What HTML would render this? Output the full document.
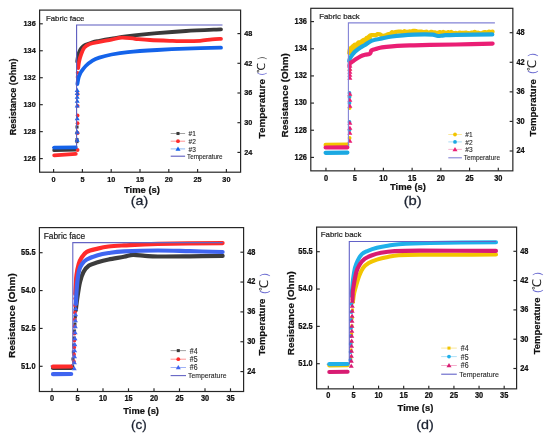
<!DOCTYPE html>
<html><head><meta charset="utf-8"><title>Resistance vs Time</title>
<style>
html,body{margin:0;padding:0;background:#fff;}
svg{display:block;}
text{font-family:'Liberation Sans', Arial, sans-serif;}
.b{font-weight:bold;fill:#111;stroke:#111;stroke-width:0.22px;}
.t{fill:#262626;stroke:#262626;stroke-width:0.1px;}
.tt{fill:#1c1c1c;stroke:#1c1c1c;stroke-width:0.2px;}
.lt{fill:#1b2231;stroke:#1b2231;stroke-width:0.3px;}
</style></head>
<body>
<svg width="550" height="439" viewBox="0 0 550 439">
<rect width="550" height="439" fill="#fff"/>
<text transform="translate(46,20.8) scale(1,1)" font-size="7.6" class="tt" textLength="38.4" lengthAdjust="spacingAndGlyphs">Fabric face</text>
<path d="M52.1,147.5 H76.6" stroke="#5b5bbf" stroke-width="1.1" fill="none"/>
<path d="M54.2,150.2 L75.8,149.6" stroke="#3a3a3a" stroke-width="3.8" stroke-linecap="round" fill="none"/>
<rect x="75.47" y="125.47" width="3.06" height="3.06" fill="#3a3a3a"/>
<rect x="75.47" y="138.07" width="3.06" height="3.06" fill="#3a3a3a"/>
<rect x="75.47" y="140.07" width="3.06" height="3.06" fill="#3a3a3a"/>
<rect x="75.47" y="131.47" width="3.06" height="3.06" fill="#3a3a3a"/>
<path d="M77.2,61.5 C77.38,60.42 77.8,56.95 78.3,55 C78.8,53.05 79.45,51.2 80.2,49.8 C80.95,48.4 81.88,47.43 82.8,46.6 C83.72,45.77 84.08,45.53 85.7,44.8 C87.32,44.07 90.23,42.87 92.5,42.2 C94.77,41.53 96.12,41.38 99.3,40.8 C102.48,40.22 106.82,39.47 111.6,38.7 C116.38,37.93 120.43,37.12 128,36.2 C135.57,35.28 147.33,34.07 157,33.2 C166.67,32.33 175.33,31.63 186,31 C196.67,30.37 215.17,29.67 221,29.4" stroke="#3a3a3a" stroke-width="3.8" stroke-linecap="round" stroke-linejoin="round" fill="none"/>
<path d="M54.2,155.3 L75.8,153.9" stroke="#ff2b2b" stroke-width="3.8" stroke-linecap="round" fill="none"/>
<circle cx="77.6" cy="72.8" r="1.89" fill="#ff2b2b"/>
<circle cx="77.6" cy="76.9" r="1.89" fill="#ff2b2b"/>
<circle cx="77.6" cy="94" r="1.89" fill="#ff2b2b"/>
<circle cx="77.6" cy="105.8" r="1.89" fill="#ff2b2b"/>
<circle cx="77.6" cy="115.5" r="1.89" fill="#ff2b2b"/>
<circle cx="77.6" cy="123.2" r="1.89" fill="#ff2b2b"/>
<circle cx="77.6" cy="132.9" r="1.89" fill="#ff2b2b"/>
<circle cx="77.6" cy="150" r="1.89" fill="#ff2b2b"/>
<path d="M78.2,68 C78.33,67 78.55,64.17 79,62 C79.45,59.83 80.02,57.4 80.9,55 C81.78,52.6 82.83,49.45 84.3,47.6 C85.77,45.75 87.2,44.87 89.7,43.9 C92.2,42.93 95.65,42.5 99.3,41.8 C102.95,41.1 107.82,40.4 111.6,39.7 C115.38,39 118.1,37.75 122,37.6 C125.9,37.45 130.33,38.4 135,38.8 C139.67,39.2 144.17,39.67 150,40 C155.83,40.33 164,40.6 170,40.8 C176,41 181,41.2 186,41.2 C191,41.2 195.67,41.1 200,40.8 C204.33,40.5 208.5,39.73 212,39.4 C215.5,39.07 219.5,38.9 221,38.8" stroke="#ff2b2b" stroke-width="3.8" stroke-linecap="round" stroke-linejoin="round" fill="none"/>
<path d="M54.2,147.7 L75.8,147.3" stroke="#1463ea" stroke-width="3.8" stroke-linecap="round" fill="none"/>
<polygon points="77.2,87.8 74.7,92.11 79.7,92.11" fill="#1463ea"/>
<polygon points="77.2,90.7 74.7,95.01 79.7,95.01" fill="#1463ea"/>
<polygon points="77.2,94.5 74.7,98.81 79.7,98.81" fill="#1463ea"/>
<polygon points="77.2,98.5 74.7,102.81 79.7,102.81" fill="#1463ea"/>
<polygon points="77.2,103.3 74.7,107.61 79.7,107.61" fill="#1463ea"/>
<polygon points="77.2,115.9 74.7,120.21 79.7,120.21" fill="#1463ea"/>
<polygon points="77.2,129.4 74.7,133.71 79.7,133.71" fill="#1463ea"/>
<polygon points="77.2,137.5 74.7,141.81 79.7,141.81" fill="#1463ea"/>
<path d="M77.4,84 C77.58,83 78.07,79.67 78.5,78 C78.93,76.33 79.48,75.13 80,74 C80.52,72.87 80.65,72.53 81.6,71.2 C82.55,69.87 83.88,67.77 85.7,66 C87.52,64.23 90.23,62 92.5,60.6 C94.77,59.2 96.12,58.62 99.3,57.6 C102.48,56.58 106.82,55.42 111.6,54.5 C116.38,53.58 120.43,52.85 128,52.1 C135.57,51.35 147.33,50.58 157,50 C166.67,49.42 175.33,48.98 186,48.6 C196.67,48.22 215.17,47.85 221,47.7" stroke="#1463ea" stroke-width="3.8" stroke-linecap="round" stroke-linejoin="round" fill="none"/>
<path d="M76.6,147.5 V25 H222.5" stroke="#5b5bbf" stroke-width="1.1" fill="none"/>
<rect x="39.6" y="10.1" width="201" height="162.1" fill="none" stroke="#262626" stroke-width="1.2"/>
<path d="M53.6,172.2 v-3.2" stroke="#262626" stroke-width="1.15"/>
<text transform="translate(53.6,181.6) scale(1,1.1)" font-size="7.3" class="b" text-anchor="middle">0</text>
<path d="M82.4,172.2 v-3.2" stroke="#262626" stroke-width="1.15"/>
<text transform="translate(82.4,181.6) scale(1,1.1)" font-size="7.3" class="b" text-anchor="middle">5</text>
<path d="M111.2,172.2 v-3.2" stroke="#262626" stroke-width="1.15"/>
<text transform="translate(111.2,181.6) scale(1,1.1)" font-size="7.3" class="b" text-anchor="middle">10</text>
<path d="M140,172.2 v-3.2" stroke="#262626" stroke-width="1.15"/>
<text transform="translate(140,181.6) scale(1,1.1)" font-size="7.3" class="b" text-anchor="middle">15</text>
<path d="M168.8,172.2 v-3.2" stroke="#262626" stroke-width="1.15"/>
<text transform="translate(168.8,181.6) scale(1,1.1)" font-size="7.3" class="b" text-anchor="middle">20</text>
<path d="M197.6,172.2 v-3.2" stroke="#262626" stroke-width="1.15"/>
<text transform="translate(197.6,181.6) scale(1,1.1)" font-size="7.3" class="b" text-anchor="middle">25</text>
<path d="M226.4,172.2 v-3.2" stroke="#262626" stroke-width="1.15"/>
<text transform="translate(226.4,181.6) scale(1,1.1)" font-size="7.3" class="b" text-anchor="middle">30</text>
<path d="M39.6,158.6 h3.2" stroke="#262626" stroke-width="1.15"/>
<text transform="translate(35.7,160.87) scale(1,1.1)" font-size="7.3" class="b" text-anchor="end">126</text>
<path d="M39.6,131.64 h3.2" stroke="#262626" stroke-width="1.15"/>
<text transform="translate(35.7,133.91) scale(1,1.1)" font-size="7.3" class="b" text-anchor="end">128</text>
<path d="M39.6,104.68 h3.2" stroke="#262626" stroke-width="1.15"/>
<text transform="translate(35.7,106.95) scale(1,1.1)" font-size="7.3" class="b" text-anchor="end">130</text>
<path d="M39.6,77.72 h3.2" stroke="#262626" stroke-width="1.15"/>
<text transform="translate(35.7,79.99) scale(1,1.1)" font-size="7.3" class="b" text-anchor="end">132</text>
<path d="M39.6,50.76 h3.2" stroke="#262626" stroke-width="1.15"/>
<text transform="translate(35.7,53.03) scale(1,1.1)" font-size="7.3" class="b" text-anchor="end">134</text>
<path d="M39.6,23.8 h3.2" stroke="#262626" stroke-width="1.15"/>
<text transform="translate(35.7,26.07) scale(1,1.1)" font-size="7.3" class="b" text-anchor="end">136</text>
<path d="M240.6,152.4 h-3.2" stroke="#262626" stroke-width="1.15"/>
<text transform="translate(244.2,154.67) scale(1,1.1)" font-size="7.3" class="b">24</text>
<path d="M240.6,122.7 h-3.2" stroke="#262626" stroke-width="1.15"/>
<text transform="translate(244.2,124.97) scale(1,1.1)" font-size="7.3" class="b">30</text>
<path d="M240.6,93 h-3.2" stroke="#262626" stroke-width="1.15"/>
<text transform="translate(244.2,95.27) scale(1,1.1)" font-size="7.3" class="b">36</text>
<path d="M240.6,63.3 h-3.2" stroke="#262626" stroke-width="1.15"/>
<text transform="translate(244.2,65.57) scale(1,1.1)" font-size="7.3" class="b">42</text>
<path d="M240.6,33.6 h-3.2" stroke="#262626" stroke-width="1.15"/>
<text transform="translate(244.2,35.87) scale(1,1.1)" font-size="7.3" class="b">48</text>
<path d="M170.7,133.5 H185.1" stroke="#9a9a9a" stroke-width="0.9"/>
<rect x="176.47" y="131.97" width="3.06" height="3.06" fill="#3a3a3a"/>
<text transform="translate(188.6,136.3) scale(1,1.18)" font-size="6.6" class="t">#1</text>
<path d="M170.7,141.2 H185.1" stroke="#ff8a8a" stroke-width="0.9"/>
<circle cx="178" cy="141.2" r="1.89" fill="#ff2b2b"/>
<text transform="translate(188.6,144) scale(1,1.18)" font-size="6.6" class="t">#2</text>
<path d="M170.7,148.9 H185.1" stroke="#86b4f2" stroke-width="0.9"/>
<polygon points="178,146.4 175.5,150.71 180.5,150.71" fill="#1463ea"/>
<text transform="translate(188.6,151.7) scale(1,1.18)" font-size="6.6" class="t">#3</text>
<path d="M170.7,156.2 H185.1" stroke="#5b5bbf" stroke-width="1.1"/>
<text transform="translate(187,158.81) scale(1,1.1)" font-size="6.6" class="t" textLength="35.6" lengthAdjust="spacingAndGlyphs">Temperature</text>
<text x="124" y="193.3" font-size="9.4" class="b" textLength="36" lengthAdjust="spacingAndGlyphs">Time (s)</text>
<text x="130.8" y="204.9" font-size="13.5" class="lt" textLength="17.3" lengthAdjust="spacingAndGlyphs">(a)</text>
<text transform="translate(15.66,96.95) rotate(-90)" font-size="9.2" class="b" text-anchor="middle" textLength="76.7" lengthAdjust="spacingAndGlyphs">Resistance (Ohm)</text>
<text transform="translate(264.76,108.75) rotate(-90)" font-size="9.8" class="b" text-anchor="middle" textLength="59.3" lengthAdjust="spacingAndGlyphs">Temperature</text>
<text transform="translate(265.1,66.1) rotate(-90)" font-family="'Liberation Sans', 'WenQuanYi Zen Hei', 'Noto Sans CJK SC', sans-serif" font-size="11.1" text-anchor="middle"><tspan fill="#5a5ad0">（</tspan><tspan fill="#1e1e1e" dx="-1.8">℃</tspan><tspan fill="#333" dx="1.8">）</tspan></text>
<text transform="translate(319.2,18.8) scale(1,1)" font-size="7.8" class="tt" textLength="40.6" lengthAdjust="spacingAndGlyphs">Fabric back</text>
<path d="M324.45,146 H348.4" stroke="#8383d6" stroke-width="1.1" fill="none"/>
<path d="M325.6,144.9 L347.4,144.7" stroke="#f2c500" stroke-width="4.2" stroke-linecap="round" fill="none"/>
<circle cx="349.6" cy="62" r="1.89" fill="#f2c500"/>
<circle cx="349.6" cy="70" r="1.89" fill="#f2c500"/>
<circle cx="349.6" cy="96" r="1.89" fill="#f2c500"/>
<circle cx="349.6" cy="108" r="1.89" fill="#f2c500"/>
<circle cx="349.6" cy="138" r="1.89" fill="#f2c500"/>
<path d="M349.6,53 C349.83,52.58 350.1,51.4 351,50.5 C351.9,49.6 353.42,48.65 355,47.6 C356.58,46.55 358.83,45.17 360.5,44.2 C362.17,43.23 363.42,42.75 365,41.8 C366.58,40.85 369.17,39.05 370,38.5" stroke="#f2c500" stroke-width="4.2" stroke-linecap="round" stroke-linejoin="round" fill="none"/>
<path d="M349.4,53 L349.46,51.35 L349.8,49.4 L350.74,48.09 L352,47 L353.29,45.82 L355,44.54 L356.69,44.33 L358.65,42.24 L360.5,41.96 L362.06,40.99 L363.5,39.93 L365,39.91 L366.53,38.01 L368.12,37.31 L370,35.61 L371.79,35.03 L373.84,35.06 L375.86,35.33 L377.6,34 L380,34.43 L382,35.5 L384.12,35.94 L386.4,34.92 L388.2,34.02 L390.13,34.17 L392,32.07 L393.67,33.1 L395.28,32.07 L397,31.73 L398.72,31.51 L400.56,31.64 L403,32.31 L404.36,31.24 L405.91,31.83 L407.6,31.88 L409.35,31.42 L411.13,31.68 L412.86,30.89 L414.5,30.9 L416.26,31.16 L417.91,31.98 L419.53,31.65 L421.2,31.55 L423,32.06 L425,31.93 L426.46,31.72 L428.01,32.56 L429.63,32.45 L431.3,31.77 L433.02,32.34 L434.76,32.31 L436.51,32.91 L438.26,32.72 L440,32.06 L441.57,33.21 L443.17,31.88 L444.79,32.41 L446.42,33 L448.06,32.08 L449.7,32.67 L451.32,31.99 L452.91,33.03 L454.48,33.21 L456,32.92 L457.79,33.41 L459.44,32.5 L461.02,33.09 L462.59,32.89 L464.21,32.84 L465.94,32.6 L467.85,33.18 L470,33.31 L471.4,32.54 L472.97,32.82 L474.68,31.83 L476.49,32.84 L478.36,32.72 L480.27,33.25 L482.18,32.95 L484.04,32.07 L485.84,32.21 L487.54,32.64 L489.1,31.58 L490.48,32.27 L491.66,31.78 L492.6,31.69" stroke="#f2c500" stroke-width="4.2" stroke-linecap="round" stroke-linejoin="round" fill="none"/>
<path d="M325.6,152.8 L347.4,152.6" stroke="#1ba8e2" stroke-width="4.2" stroke-linecap="round" fill="none"/>
<circle cx="349.5" cy="93" r="1.89" fill="#1ba8e2"/>
<circle cx="349.5" cy="97" r="1.89" fill="#1ba8e2"/>
<circle cx="349.5" cy="103" r="1.89" fill="#1ba8e2"/>
<circle cx="349.5" cy="122" r="1.89" fill="#1ba8e2"/>
<circle cx="349.5" cy="130" r="1.89" fill="#1ba8e2"/>
<path d="M349.2,61 C349.37,60.5 349.65,59.08 350.2,58 C350.75,56.92 351.7,55.57 352.5,54.5 C353.3,53.43 353.67,52.77 355,51.6 C356.33,50.43 358.83,48.6 360.5,47.5 C362.17,46.4 363.08,46.15 365,45 C366.92,43.85 369.17,41.7 372,40.6 C374.83,39.5 378.67,39.08 382,38.4 C385.33,37.72 388.5,37.02 392,36.5 C395.5,35.98 399.33,35.62 403,35.3 C406.67,34.98 410.33,34.77 414,34.6 C417.67,34.43 421.83,34.28 425,34.3 C428.17,34.32 430.83,34.42 433,34.7 C435.17,34.98 436.17,35.9 438,36 C439.83,36.1 441,35.5 444,35.3 C447,35.1 447.95,34.95 456,34.8 C464.05,34.65 486.25,34.47 492.3,34.4" stroke="#1ba8e2" stroke-width="4.2" stroke-linecap="round" stroke-linejoin="round" fill="none"/>
<path d="M325.6,147.5 L347.4,147.3" stroke="#ea1e74" stroke-width="4.2" stroke-linecap="round" fill="none"/>
<polygon points="349.9,63.5 347.4,67.81 352.4,67.81" fill="#ea1e74"/>
<polygon points="349.9,66.5 347.4,70.81 352.4,70.81" fill="#ea1e74"/>
<polygon points="349.9,69.5 347.4,73.81 352.4,73.81" fill="#ea1e74"/>
<polygon points="349.9,72.5 347.4,76.81 352.4,76.81" fill="#ea1e74"/>
<polygon points="349.9,75.5 347.4,79.81 352.4,79.81" fill="#ea1e74"/>
<polygon points="349.9,91.5 347.4,95.81 352.4,95.81" fill="#ea1e74"/>
<polygon points="349.9,97.5 347.4,101.81 352.4,101.81" fill="#ea1e74"/>
<polygon points="349.9,103.5 347.4,107.81 352.4,107.81" fill="#ea1e74"/>
<polygon points="349.9,120.5 347.4,124.81 352.4,124.81" fill="#ea1e74"/>
<polygon points="349.9,125.5 347.4,129.81 352.4,129.81" fill="#ea1e74"/>
<polygon points="349.9,130.5 347.4,134.81 352.4,134.81" fill="#ea1e74"/>
<polygon points="349.9,138.5 347.4,142.81 352.4,142.81" fill="#ea1e74"/>
<path d="M349.4,66 C349.5,65.57 349.48,64.13 350,63.4 C350.52,62.67 351.67,62.2 352.5,61.6 C353.33,61 353.67,60.67 355,59.8 C356.33,58.93 358.83,57.23 360.5,56.4 C362.17,55.57 363.53,55.2 365,54.8 C366.47,54.4 368.4,54.3 369.3,54 C370.2,53.7 370.07,53.57 370.4,53 C370.73,52.43 370.87,51.13 371.3,50.6 C371.73,50.07 372.05,50.13 373,49.8 C373.95,49.47 375.5,49 377,48.6 C378.5,48.2 379.5,47.78 382,47.4 C384.5,47.02 388.5,46.6 392,46.3 C395.5,46 399.33,45.77 403,45.6 C406.67,45.43 409.5,45.42 414,45.3 C418.5,45.18 423,45.03 430,44.9 C437,44.77 445.57,44.72 456,44.5 C466.43,44.28 486.5,43.75 492.6,43.6" stroke="#ea1e74" stroke-width="4.2" stroke-linecap="round" stroke-linejoin="round" fill="none"/>
<path d="M348.4,146 V22.9 H494.9" stroke="#8383d6" stroke-width="1.1" fill="none"/>
<rect x="310.8" y="8.3" width="202.05" height="162.55" fill="none" stroke="#262626" stroke-width="1.2"/>
<path d="M325.95,170.85 v-3.2" stroke="#262626" stroke-width="1.15"/>
<text transform="translate(325.95,180.9) scale(1,1.1)" font-size="7.4" class="b" text-anchor="middle">0</text>
<path d="M354.68,170.85 v-3.2" stroke="#262626" stroke-width="1.15"/>
<text transform="translate(354.68,180.9) scale(1,1.1)" font-size="7.4" class="b" text-anchor="middle">5</text>
<path d="M383.4,170.85 v-3.2" stroke="#262626" stroke-width="1.15"/>
<text transform="translate(383.4,180.9) scale(1,1.1)" font-size="7.4" class="b" text-anchor="middle">10</text>
<path d="M412.12,170.85 v-3.2" stroke="#262626" stroke-width="1.15"/>
<text transform="translate(412.12,180.9) scale(1,1.1)" font-size="7.4" class="b" text-anchor="middle">15</text>
<path d="M440.85,170.85 v-3.2" stroke="#262626" stroke-width="1.15"/>
<text transform="translate(440.85,180.9) scale(1,1.1)" font-size="7.4" class="b" text-anchor="middle">20</text>
<path d="M469.57,170.85 v-3.2" stroke="#262626" stroke-width="1.15"/>
<text transform="translate(469.57,180.9) scale(1,1.1)" font-size="7.4" class="b" text-anchor="middle">25</text>
<path d="M498.3,170.85 v-3.2" stroke="#262626" stroke-width="1.15"/>
<text transform="translate(498.3,180.9) scale(1,1.1)" font-size="7.4" class="b" text-anchor="middle">30</text>
<path d="M310.8,157.4 h3.2" stroke="#262626" stroke-width="1.15"/>
<text transform="translate(306.9,159.71) scale(1,1.1)" font-size="7.4" class="b" text-anchor="end">126</text>
<path d="M310.8,130.24 h3.2" stroke="#262626" stroke-width="1.15"/>
<text transform="translate(306.9,132.55) scale(1,1.1)" font-size="7.4" class="b" text-anchor="end">128</text>
<path d="M310.8,103.08 h3.2" stroke="#262626" stroke-width="1.15"/>
<text transform="translate(306.9,105.39) scale(1,1.1)" font-size="7.4" class="b" text-anchor="end">130</text>
<path d="M310.8,75.92 h3.2" stroke="#262626" stroke-width="1.15"/>
<text transform="translate(306.9,78.23) scale(1,1.1)" font-size="7.4" class="b" text-anchor="end">132</text>
<path d="M310.8,48.76 h3.2" stroke="#262626" stroke-width="1.15"/>
<text transform="translate(306.9,51.07) scale(1,1.1)" font-size="7.4" class="b" text-anchor="end">134</text>
<path d="M310.8,21.6 h3.2" stroke="#262626" stroke-width="1.15"/>
<text transform="translate(306.9,23.91) scale(1,1.1)" font-size="7.4" class="b" text-anchor="end">136</text>
<path d="M512.85,151 h-3.2" stroke="#262626" stroke-width="1.15"/>
<text transform="translate(516.45,153.31) scale(1,1.1)" font-size="7.4" class="b">24</text>
<path d="M512.85,121.42 h-3.2" stroke="#262626" stroke-width="1.15"/>
<text transform="translate(516.45,123.74) scale(1,1.1)" font-size="7.4" class="b">30</text>
<path d="M512.85,91.85 h-3.2" stroke="#262626" stroke-width="1.15"/>
<text transform="translate(516.45,94.16) scale(1,1.1)" font-size="7.4" class="b">36</text>
<path d="M512.85,62.27 h-3.2" stroke="#262626" stroke-width="1.15"/>
<text transform="translate(516.45,64.59) scale(1,1.1)" font-size="7.4" class="b">42</text>
<path d="M512.85,32.7 h-3.2" stroke="#262626" stroke-width="1.15"/>
<text transform="translate(516.45,35.01) scale(1,1.1)" font-size="7.4" class="b">48</text>
<path d="M448.3,134.5 H461.9" stroke="#f9e490" stroke-width="0.9"/>
<circle cx="455" cy="134.5" r="1.89" fill="#f2c500"/>
<text transform="translate(465.3,137.3) scale(1,1.18)" font-size="6.6" class="t">#1</text>
<path d="M448.3,141.9 H461.9" stroke="#a2d8f3" stroke-width="0.9"/>
<circle cx="455" cy="141.9" r="1.89" fill="#1ba8e2"/>
<text transform="translate(465.3,144.7) scale(1,1.18)" font-size="6.6" class="t">#2</text>
<path d="M448.3,149.4 H461.9" stroke="#f6a9c8" stroke-width="0.9"/>
<polygon points="455,146.9 452.5,151.21 457.5,151.21" fill="#ea1e74"/>
<text transform="translate(465.3,152.2) scale(1,1.18)" font-size="6.6" class="t">#3</text>
<path d="M448.3,157.8 H461.9" stroke="#8383d6" stroke-width="1.1"/>
<text transform="translate(463.7,160.41) scale(1,1.1)" font-size="6.6" class="t" textLength="36.3" lengthAdjust="spacingAndGlyphs">Temperature</text>
<text x="390" y="190.4" font-size="9.4" class="b" textLength="36" lengthAdjust="spacingAndGlyphs">Time (s)</text>
<text x="403.7" y="205.4" font-size="13.5" class="lt" textLength="18" lengthAdjust="spacingAndGlyphs">(b)</text>
<text transform="translate(287.52,95.3) rotate(-90)" font-size="9.9" class="b" text-anchor="middle" textLength="84.2" lengthAdjust="spacingAndGlyphs">Resistance (Ohm)</text>
<text transform="translate(536.44,107.9) rotate(-90)" font-size="9.5" class="b" text-anchor="middle" textLength="57.2" lengthAdjust="spacingAndGlyphs">Temperature</text>
<text transform="translate(536.4,63.65) rotate(-90)" font-family="'Liberation Sans', 'WenQuanYi Zen Hei', 'Noto Sans CJK SC', sans-serif" font-size="12.2" text-anchor="middle"><tspan fill="#6f6fd2">（</tspan><tspan fill="#1e1e1e" dx="-1.8">℃</tspan><tspan fill="#6f6fd2" dx="1.8">）</tspan></text>
<text transform="translate(43.7,239.1) scale(1,1.04)" font-size="8.2" class="tt" textLength="41.4" lengthAdjust="spacingAndGlyphs">Fabric face</text>
<path d="M50.5,366 H72.8" stroke="#6464c4" stroke-width="1.1" fill="none"/>
<path d="M53,368 L71.2,368" stroke="#3c3c3c" stroke-width="4.2" stroke-linecap="round" fill="none"/>
<rect x="71.07" y="364.47" width="3.06" height="3.06" fill="#3c3c3c"/>
<rect x="71.46" y="357.47" width="3.06" height="3.06" fill="#3c3c3c"/>
<rect x="71.84" y="350.47" width="3.06" height="3.06" fill="#3c3c3c"/>
<rect x="72.23" y="343.47" width="3.06" height="3.06" fill="#3c3c3c"/>
<rect x="72.61" y="336.47" width="3.06" height="3.06" fill="#3c3c3c"/>
<rect x="73" y="329.47" width="3.06" height="3.06" fill="#3c3c3c"/>
<rect x="73.39" y="322.47" width="3.06" height="3.06" fill="#3c3c3c"/>
<rect x="73.77" y="315.47" width="3.06" height="3.06" fill="#3c3c3c"/>
<rect x="74.16" y="308.47" width="3.06" height="3.06" fill="#3c3c3c"/>
<path d="M75.8,310 C76.05,308 76.6,302.67 77.3,298 C78,293.33 78.97,286.33 80,282 C81.03,277.67 82,274.75 83.5,272 C85,269.25 86.63,267.12 89,265.5 C91.37,263.88 94.43,263.3 97.7,262.3 C100.97,261.3 104.23,260.42 108.6,259.5 C112.97,258.58 119.83,257.58 123.9,256.8 C127.97,256.02 129.48,254.97 133,254.8 C136.52,254.63 140.88,255.52 145,255.8 C149.12,256.08 150.2,256.42 157.7,256.5 C165.2,256.58 179.18,256.4 190,256.3 C200.82,256.2 217.17,255.97 222.6,255.9" stroke="#3c3c3c" stroke-width="4.2" stroke-linecap="round" stroke-linejoin="round" fill="none"/>
<path d="M53,366.7 L71.2,366.5" stroke="#ff2b2b" stroke-width="4.2" stroke-linecap="round" fill="none"/>
<circle cx="73.88" cy="361.5" r="1.89" fill="#ff2b2b"/>
<circle cx="74.03" cy="354.5" r="1.89" fill="#ff2b2b"/>
<circle cx="74.18" cy="347.5" r="1.89" fill="#ff2b2b"/>
<circle cx="74.34" cy="340.5" r="1.89" fill="#ff2b2b"/>
<circle cx="74.49" cy="333.5" r="1.89" fill="#ff2b2b"/>
<circle cx="74.64" cy="326.5" r="1.89" fill="#ff2b2b"/>
<circle cx="74.8" cy="319.5" r="1.89" fill="#ff2b2b"/>
<circle cx="74.95" cy="312.5" r="1.89" fill="#ff2b2b"/>
<circle cx="75.1" cy="305.5" r="1.89" fill="#ff2b2b"/>
<circle cx="75.26" cy="298.5" r="1.89" fill="#ff2b2b"/>
<path d="M75.3,294 C75.4,292.33 75.7,287.17 75.9,284 C76.1,280.83 76.03,278.33 76.5,275 C76.97,271.67 77.88,266.85 78.7,264 C79.52,261.15 80.05,259.92 81.4,257.9 C82.75,255.88 84.08,253.45 86.8,251.9 C89.52,250.35 94.07,249.5 97.7,248.6 C101.33,247.7 104.23,247.03 108.6,246.5 C112.97,245.97 115.72,245.85 123.9,245.4 C132.08,244.95 141.25,244.18 157.7,243.8 C174.15,243.42 211.78,243.22 222.6,243.1" stroke="#ff2b2b" stroke-width="4.2" stroke-linecap="round" stroke-linejoin="round" fill="none"/>
<path d="M53,374.2 L71.2,374" stroke="#4065f0" stroke-width="4.2" stroke-linecap="round" fill="none"/>
<polygon points="74.24,366 71.74,370.31 76.74,370.31" fill="#4065f0"/>
<polygon points="74.39,360 71.89,364.31 76.89,364.31" fill="#4065f0"/>
<polygon points="74.54,354 72.04,358.31 77.04,358.31" fill="#4065f0"/>
<polygon points="74.69,348 72.19,352.31 77.19,352.31" fill="#4065f0"/>
<polygon points="74.84,342 72.34,346.31 77.34,346.31" fill="#4065f0"/>
<polygon points="74.99,336 72.49,340.31 77.49,340.31" fill="#4065f0"/>
<polygon points="75.14,330 72.64,334.31 77.64,334.31" fill="#4065f0"/>
<polygon points="75.29,324 72.79,328.31 77.79,328.31" fill="#4065f0"/>
<polygon points="75.44,318 72.94,322.31 77.94,322.31" fill="#4065f0"/>
<polygon points="75.59,312 73.09,316.31 78.09,316.31" fill="#4065f0"/>
<polygon points="75.74,306 73.24,310.31 78.24,310.31" fill="#4065f0"/>
<polygon points="75.89,300 73.39,304.31 78.39,304.31" fill="#4065f0"/>
<path d="M75.9,304 C75.97,302.5 76.07,298.67 76.3,295 C76.53,291.33 76.82,286.17 77.3,282 C77.78,277.83 78.42,273 79.2,270 C79.98,267 80.73,265.75 82,264 C83.27,262.25 84.18,260.97 86.8,259.5 C89.42,258.03 94.07,256.28 97.7,255.2 C101.33,254.12 104.23,253.63 108.6,253 C112.97,252.37 115.72,251.82 123.9,251.4 C132.08,250.98 146.68,250.53 157.7,250.5 C168.72,250.47 179.18,250.95 190,251.2 C200.82,251.45 217.17,251.87 222.6,252" stroke="#4065f0" stroke-width="4.2" stroke-linecap="round" stroke-linejoin="round" fill="none"/>
<path d="M72.8,366 V242.6 H222.8" stroke="#6464c4" stroke-width="1.1" fill="none"/>
<rect x="39.4" y="227.6" width="204.2" height="163.9" fill="none" stroke="#262626" stroke-width="1.2"/>
<path d="M52,391.5 v-3.2" stroke="#262626" stroke-width="1.15"/>
<text transform="translate(52,401) scale(1,1.1)" font-size="7.4" class="b" text-anchor="middle">0</text>
<path d="M77.5,391.5 v-3.2" stroke="#262626" stroke-width="1.15"/>
<text transform="translate(77.5,401) scale(1,1.1)" font-size="7.4" class="b" text-anchor="middle">5</text>
<path d="M103,391.5 v-3.2" stroke="#262626" stroke-width="1.15"/>
<text transform="translate(103,401) scale(1,1.1)" font-size="7.4" class="b" text-anchor="middle">10</text>
<path d="M128.5,391.5 v-3.2" stroke="#262626" stroke-width="1.15"/>
<text transform="translate(128.5,401) scale(1,1.1)" font-size="7.4" class="b" text-anchor="middle">15</text>
<path d="M154,391.5 v-3.2" stroke="#262626" stroke-width="1.15"/>
<text transform="translate(154,401) scale(1,1.1)" font-size="7.4" class="b" text-anchor="middle">20</text>
<path d="M179.5,391.5 v-3.2" stroke="#262626" stroke-width="1.15"/>
<text transform="translate(179.5,401) scale(1,1.1)" font-size="7.4" class="b" text-anchor="middle">25</text>
<path d="M205,391.5 v-3.2" stroke="#262626" stroke-width="1.15"/>
<text transform="translate(205,401) scale(1,1.1)" font-size="7.4" class="b" text-anchor="middle">30</text>
<path d="M230.5,391.5 v-3.2" stroke="#262626" stroke-width="1.15"/>
<text transform="translate(230.5,401) scale(1,1.1)" font-size="7.4" class="b" text-anchor="middle">35</text>
<path d="M39.4,366.3 h3.2" stroke="#262626" stroke-width="1.15"/>
<text transform="translate(35.5,368.61) scale(1,1.1)" font-size="7.4" class="b" text-anchor="end">51.0</text>
<path d="M39.4,328.43 h3.2" stroke="#262626" stroke-width="1.15"/>
<text transform="translate(35.5,330.75) scale(1,1.1)" font-size="7.4" class="b" text-anchor="end">52.5</text>
<path d="M39.4,290.57 h3.2" stroke="#262626" stroke-width="1.15"/>
<text transform="translate(35.5,292.88) scale(1,1.1)" font-size="7.4" class="b" text-anchor="end">54.0</text>
<path d="M39.4,252.7 h3.2" stroke="#262626" stroke-width="1.15"/>
<text transform="translate(35.5,255.01) scale(1,1.1)" font-size="7.4" class="b" text-anchor="end">55.5</text>
<path d="M243.6,371.6 h-3.2" stroke="#262626" stroke-width="1.15"/>
<text transform="translate(247.2,373.91) scale(1,1.1)" font-size="7.4" class="b">24</text>
<path d="M243.6,341.75 h-3.2" stroke="#262626" stroke-width="1.15"/>
<text transform="translate(247.2,344.06) scale(1,1.1)" font-size="7.4" class="b">30</text>
<path d="M243.6,311.9 h-3.2" stroke="#262626" stroke-width="1.15"/>
<text transform="translate(247.2,314.21) scale(1,1.1)" font-size="7.4" class="b">36</text>
<path d="M243.6,282.05 h-3.2" stroke="#262626" stroke-width="1.15"/>
<text transform="translate(247.2,284.36) scale(1,1.1)" font-size="7.4" class="b">42</text>
<path d="M243.6,252.2 h-3.2" stroke="#262626" stroke-width="1.15"/>
<text transform="translate(247.2,254.51) scale(1,1.1)" font-size="7.4" class="b">48</text>
<path d="M170.6,350.6 H186" stroke="#9a9a9a" stroke-width="0.9"/>
<rect x="176.77" y="349.07" width="3.06" height="3.06" fill="#3c3c3c"/>
<text transform="translate(189.8,353.57) scale(1,1.18)" font-size="7" class="t">#4</text>
<path d="M170.6,359.2 H186" stroke="#ff8a8a" stroke-width="0.9"/>
<circle cx="178.3" cy="359.2" r="1.89" fill="#ff2b2b"/>
<text transform="translate(189.8,362.17) scale(1,1.18)" font-size="7" class="t">#5</text>
<path d="M170.6,367.5 H186" stroke="#95a9f5" stroke-width="0.9"/>
<polygon points="178.3,365 175.8,369.31 180.8,369.31" fill="#4065f0"/>
<text transform="translate(189.8,370.47) scale(1,1.18)" font-size="7" class="t">#6</text>
<path d="M170.6,375.6 H186" stroke="#6464c4" stroke-width="1.1"/>
<text transform="translate(188,378.37) scale(1,1.1)" font-size="7" class="t" textLength="38.5" lengthAdjust="spacingAndGlyphs">Temperature</text>
<text x="123.3" y="414.1" font-size="9.3" class="b" textLength="35.7" lengthAdjust="spacingAndGlyphs">Time (s)</text>
<text x="131" y="429" font-size="13.5" class="lt" textLength="15.7" lengthAdjust="spacingAndGlyphs">(c)</text>
<text transform="translate(15.32,315.6) rotate(-90)" font-size="9.9" class="b" text-anchor="middle" textLength="84.8" lengthAdjust="spacingAndGlyphs">Resistance (Ohm)</text>
<text transform="translate(265.47,327.05) rotate(-90)" font-size="9.4" class="b" text-anchor="middle" textLength="56.9" lengthAdjust="spacingAndGlyphs">Temperature</text>
<text transform="translate(267.75,283.7) rotate(-90)" font-family="'Liberation Sans', 'WenQuanYi Zen Hei', 'Noto Sans CJK SC', sans-serif" font-size="11.55" text-anchor="middle"><tspan fill="#6f6fd2">（</tspan><tspan fill="#1e1e1e" dx="-1.8">℃</tspan><tspan fill="#6f6fd2" dx="1.8">）</tspan></text>
<text transform="translate(320.8,237.2) scale(1,1)" font-size="7.8" class="tt" textLength="40.6" lengthAdjust="spacingAndGlyphs">Fabric back</text>
<path d="M326.8,364.3 H349.3" stroke="#6262c8" stroke-width="1.1" fill="none"/>
<path d="M329.3,365.4 L347.6,365.3" stroke="#f2c500" stroke-width="4.1" stroke-linecap="round" fill="none"/>
<rect x="349.21" y="356.47" width="3.06" height="3.06" fill="#f2c500"/>
<rect x="349.5" y="348.47" width="3.06" height="3.06" fill="#f2c500"/>
<rect x="349.78" y="340.47" width="3.06" height="3.06" fill="#f2c500"/>
<rect x="350.06" y="332.47" width="3.06" height="3.06" fill="#f2c500"/>
<rect x="350.35" y="324.47" width="3.06" height="3.06" fill="#f2c500"/>
<rect x="350.63" y="316.47" width="3.06" height="3.06" fill="#f2c500"/>
<rect x="350.92" y="308.47" width="3.06" height="3.06" fill="#f2c500"/>
<rect x="351.2" y="300.47" width="3.06" height="3.06" fill="#f2c500"/>
<path d="M352.9,302 C353.05,300.83 353.45,297.05 353.8,295 C354.15,292.95 354.12,292.87 355,289.7 C355.88,286.53 357.73,279.65 359.1,276 C360.47,272.35 361.6,269.97 363.2,267.8 C364.8,265.63 366.42,264.37 368.7,263 C370.98,261.63 373.72,260.62 376.9,259.6 C380.08,258.58 384.15,257.63 387.8,256.9 C391.45,256.17 393.43,255.58 398.8,255.2 C404.17,254.82 409.8,254.67 420,254.6 C430.2,254.53 447.33,254.82 460,254.8 C472.67,254.78 490,254.55 496,254.5" stroke="#f2c500" stroke-width="4.1" stroke-linecap="round" stroke-linejoin="round" fill="none"/>
<path d="M329.3,364.1 L347.6,364" stroke="#1fb0ea" stroke-width="4.1" stroke-linecap="round" fill="none"/>
<circle cx="350.4" cy="360" r="1.89" fill="#1fb0ea"/>
<circle cx="350.56" cy="352" r="1.89" fill="#1fb0ea"/>
<circle cx="350.73" cy="344" r="1.89" fill="#1fb0ea"/>
<circle cx="350.89" cy="336" r="1.89" fill="#1fb0ea"/>
<circle cx="351.06" cy="328" r="1.89" fill="#1fb0ea"/>
<circle cx="351.22" cy="320" r="1.89" fill="#1fb0ea"/>
<circle cx="351.39" cy="312" r="1.89" fill="#1fb0ea"/>
<circle cx="351.55" cy="304" r="1.89" fill="#1fb0ea"/>
<circle cx="351.72" cy="296" r="1.89" fill="#1fb0ea"/>
<path d="M351.8,294 C351.88,293 352.1,290.32 352.3,288 C352.5,285.68 352.55,283.47 353,280.1 C353.45,276.73 354.2,271.1 355,267.8 C355.8,264.5 356.65,262.58 357.8,260.3 C358.95,258.02 360.32,255.63 361.9,254.1 C363.48,252.57 364.8,252.15 367.3,251.1 C369.8,250.05 373.48,248.68 376.9,247.8 C380.32,246.92 384.15,246.38 387.8,245.8 C391.45,245.22 391.77,244.77 398.8,244.3 C405.83,243.83 413.8,243.35 430,243 C446.2,242.65 485,242.33 496,242.2" stroke="#1fb0ea" stroke-width="4.1" stroke-linecap="round" stroke-linejoin="round" fill="none"/>
<path d="M329.3,372 L347.6,371.7" stroke="#d81b72" stroke-width="4.1" stroke-linecap="round" fill="none"/>
<polygon points="351.23,363.5 348.73,367.81 353.73,367.81" fill="#d81b72"/>
<polygon points="351.32,358.5 348.82,362.81 353.82,362.81" fill="#d81b72"/>
<polygon points="351.41,353.5 348.91,357.81 353.91,357.81" fill="#d81b72"/>
<polygon points="351.49,348.5 348.99,352.81 353.99,352.81" fill="#d81b72"/>
<polygon points="351.58,343.5 349.08,347.81 354.08,347.81" fill="#d81b72"/>
<polygon points="351.66,338.5 349.16,342.81 354.16,342.81" fill="#d81b72"/>
<polygon points="351.75,333.5 349.25,337.81 354.25,337.81" fill="#d81b72"/>
<polygon points="351.83,328.5 349.33,332.81 354.33,332.81" fill="#d81b72"/>
<polygon points="351.92,323.5 349.42,327.81 354.42,327.81" fill="#d81b72"/>
<polygon points="352.01,318.5 349.51,322.81 354.51,322.81" fill="#d81b72"/>
<polygon points="352.09,313.5 349.59,317.81 354.59,317.81" fill="#d81b72"/>
<polygon points="352.18,308.5 349.68,312.81 354.68,312.81" fill="#d81b72"/>
<polygon points="352.26,303.5 349.76,307.81 354.76,307.81" fill="#d81b72"/>
<polygon points="352.35,298.5 349.85,302.81 354.85,302.81" fill="#d81b72"/>
<path d="M352.4,300 C352.45,299.17 352.6,296.72 352.7,295 C352.8,293.28 352.38,293.55 353,289.7 C353.62,285.85 355.27,276.12 356.4,271.9 C357.53,267.68 358.43,266.57 359.8,264.4 C361.17,262.23 362.67,260.38 364.6,258.9 C366.53,257.42 368.67,256.52 371.4,255.5 C374.13,254.48 377.12,253.53 381,252.8 C384.88,252.07 388.2,251.47 394.7,251.1 C401.2,250.73 403.12,250.63 420,250.6 C436.88,250.57 483.33,250.85 496,250.9" stroke="#d81b72" stroke-width="4.1" stroke-linecap="round" stroke-linejoin="round" fill="none"/>
<path d="M349.3,364.3 V241.5 H496" stroke="#6262c8" stroke-width="1.1" fill="none"/>
<rect x="316.6" y="227.1" width="200" height="161.75" fill="none" stroke="#262626" stroke-width="1.2"/>
<path d="M328.3,388.85 v-3.2" stroke="#262626" stroke-width="1.15"/>
<text transform="translate(328.3,398.2) scale(1,1.1)" font-size="7.4" class="b" text-anchor="middle">0</text>
<path d="M353.43,388.85 v-3.2" stroke="#262626" stroke-width="1.15"/>
<text transform="translate(353.43,398.2) scale(1,1.1)" font-size="7.4" class="b" text-anchor="middle">5</text>
<path d="M378.55,388.85 v-3.2" stroke="#262626" stroke-width="1.15"/>
<text transform="translate(378.55,398.2) scale(1,1.1)" font-size="7.4" class="b" text-anchor="middle">10</text>
<path d="M403.68,388.85 v-3.2" stroke="#262626" stroke-width="1.15"/>
<text transform="translate(403.68,398.2) scale(1,1.1)" font-size="7.4" class="b" text-anchor="middle">15</text>
<path d="M428.8,388.85 v-3.2" stroke="#262626" stroke-width="1.15"/>
<text transform="translate(428.8,398.2) scale(1,1.1)" font-size="7.4" class="b" text-anchor="middle">20</text>
<path d="M453.93,388.85 v-3.2" stroke="#262626" stroke-width="1.15"/>
<text transform="translate(453.93,398.2) scale(1,1.1)" font-size="7.4" class="b" text-anchor="middle">25</text>
<path d="M479.05,388.85 v-3.2" stroke="#262626" stroke-width="1.15"/>
<text transform="translate(479.05,398.2) scale(1,1.1)" font-size="7.4" class="b" text-anchor="middle">30</text>
<path d="M504.18,388.85 v-3.2" stroke="#262626" stroke-width="1.15"/>
<text transform="translate(504.18,398.2) scale(1,1.1)" font-size="7.4" class="b" text-anchor="middle">35</text>
<path d="M316.6,363.7 h3.2" stroke="#262626" stroke-width="1.15"/>
<text transform="translate(312.7,366.01) scale(1,1.1)" font-size="7.4" class="b" text-anchor="end">51.0</text>
<path d="M316.6,326.37 h3.2" stroke="#262626" stroke-width="1.15"/>
<text transform="translate(312.7,328.68) scale(1,1.1)" font-size="7.4" class="b" text-anchor="end">52.5</text>
<path d="M316.6,289.03 h3.2" stroke="#262626" stroke-width="1.15"/>
<text transform="translate(312.7,291.35) scale(1,1.1)" font-size="7.4" class="b" text-anchor="end">54.0</text>
<path d="M316.6,251.7 h3.2" stroke="#262626" stroke-width="1.15"/>
<text transform="translate(312.7,254.01) scale(1,1.1)" font-size="7.4" class="b" text-anchor="end">55.5</text>
<path d="M516.6,368.5 h-3.2" stroke="#262626" stroke-width="1.15"/>
<text transform="translate(520.2,370.81) scale(1,1.1)" font-size="7.4" class="b">24</text>
<path d="M516.6,339.2 h-3.2" stroke="#262626" stroke-width="1.15"/>
<text transform="translate(520.2,341.51) scale(1,1.1)" font-size="7.4" class="b">30</text>
<path d="M516.6,309.9 h-3.2" stroke="#262626" stroke-width="1.15"/>
<text transform="translate(520.2,312.21) scale(1,1.1)" font-size="7.4" class="b">36</text>
<path d="M516.6,280.6 h-3.2" stroke="#262626" stroke-width="1.15"/>
<text transform="translate(520.2,282.91) scale(1,1.1)" font-size="7.4" class="b">42</text>
<path d="M516.6,251.3 h-3.2" stroke="#262626" stroke-width="1.15"/>
<text transform="translate(520.2,253.61) scale(1,1.1)" font-size="7.4" class="b">48</text>
<path d="M441.2,348.1 H456.8" stroke="#f9e490" stroke-width="0.9"/>
<rect x="447.47" y="346.57" width="3.06" height="3.06" fill="#f2c500"/>
<text transform="translate(460.8,351.07) scale(1,1.18)" font-size="7" class="t">#4</text>
<path d="M441.2,356.6 H456.8" stroke="#a6dcf5" stroke-width="0.9"/>
<circle cx="449" cy="356.6" r="1.89" fill="#1fb0ea"/>
<text transform="translate(460.8,359.57) scale(1,1.18)" font-size="7" class="t">#5</text>
<path d="M441.2,365.5 H456.8" stroke="#f2a5c6" stroke-width="0.9"/>
<polygon points="449,363 446.5,367.31 451.5,367.31" fill="#d81b72"/>
<text transform="translate(460.8,368.47) scale(1,1.18)" font-size="7" class="t">#6</text>
<path d="M441.2,374.2 H456.8" stroke="#6262c8" stroke-width="1.1"/>
<text transform="translate(459.2,376.97) scale(1,1.1)" font-size="7" class="t" textLength="39.8" lengthAdjust="spacingAndGlyphs">Temperature</text>
<text x="397.6" y="411.3" font-size="9.3" class="b" textLength="35.7" lengthAdjust="spacingAndGlyphs">Time (s)</text>
<text x="416.2" y="428.8" font-size="13.5" class="lt" textLength="17.5" lengthAdjust="spacingAndGlyphs">(d)</text>
<text transform="translate(294.22,313.25) rotate(-90)" font-size="9.9" class="b" text-anchor="middle" textLength="83.9" lengthAdjust="spacingAndGlyphs">Resistance (Ohm)</text>
<text transform="translate(540.07,325.9) rotate(-90)" font-size="9.4" class="b" text-anchor="middle" textLength="56.8" lengthAdjust="spacingAndGlyphs">Temperature</text>
<text transform="translate(541.05,282.65) rotate(-90)" font-family="'Liberation Sans', 'WenQuanYi Zen Hei', 'Noto Sans CJK SC', sans-serif" font-size="11.75" text-anchor="middle"><tspan fill="#6f6fd2">（</tspan><tspan fill="#1e1e1e" dx="-1.8">℃</tspan><tspan fill="#6f6fd2" dx="1.8">）</tspan></text>
</svg>
</body></html>
